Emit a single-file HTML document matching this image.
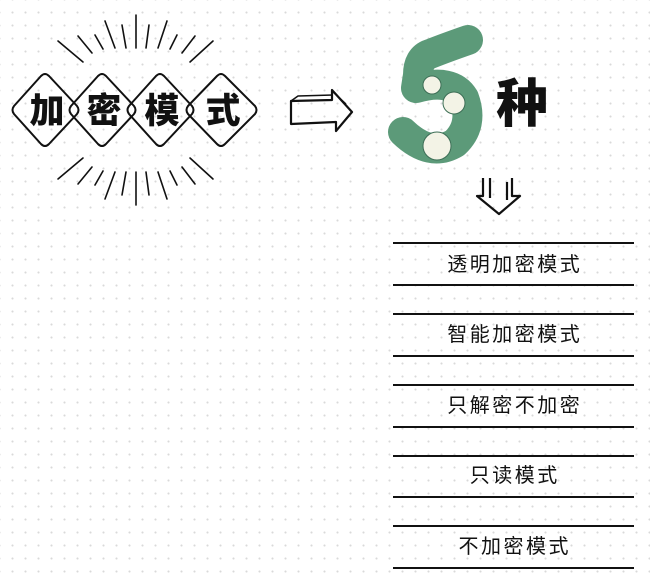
<!DOCTYPE html>
<html><head><meta charset="utf-8"><style>
html,body{margin:0;padding:0}
body{width:650px;height:583px;position:relative;overflow:hidden;background:#fff;
background-image:radial-gradient(circle,#d9d9d9 0.9px,transparent 1.2px);background-size:13px 13px;background-position:6px 6px;
font-family:"Liberation Sans","Noto Sans CJK SC",sans-serif}
.ln{position:absolute;left:393px;width:241px;height:2px;background:#111}
.t{position:absolute;left:393px;width:241px;text-align:center;font-size:20px;letter-spacing:2.5px;text-indent:2.5px;color:#111;line-height:24px}
</style></head><body>
<svg width="650" height="583" style="position:absolute;left:0;top:0">
<g stroke="#111" stroke-width="1.6" fill="none" stroke-linecap="round">
<g id="rays">
<line x1="58" y1="41" x2="83" y2="62"/><line x1="78" y1="36" x2="92" y2="53"/>
<line x1="95" y1="35" x2="103" y2="49"/><line x1="105" y1="21" x2="115" y2="48"/>
<line x1="122" y1="25" x2="126" y2="48"/><line x1="136" y1="15" x2="136" y2="48"/>
<line x1="149" y1="25" x2="146" y2="48"/><line x1="167" y1="21" x2="158" y2="48"/>
<line x1="177" y1="35" x2="170" y2="49"/><line x1="195" y1="36" x2="182" y2="53"/>
<line x1="213" y1="41" x2="190" y2="62"/>
</g>
<use href="#rays" transform="translate(0,220) scale(1,-1)"/>
</g>
<g stroke="#111" stroke-width="2" fill="none" stroke-linejoin="round">
<path d="M41 76 Q45 72 49 76 L77 106 Q80 110 77 114 L49 144 Q45 148 41 144 L14 114 Q11 110 14 106 Z"/>
<path d="M98 76 Q102 72 106 76 L134 106 Q137 110 134 114 L106 144 Q102 148 98 144 L71 114 Q68 110 71 106 Z"/>
<path d="M156 76 Q160 72 164 76 L192 106 Q195 110 192 114 L164 144 Q160 148 156 144 L129 114 Q126 110 129 106 Z"/>
<path d="M217 76 Q221 72 225 76 L255 106 Q258 110 255 114 L225 144 Q221 148 217 144 L188 114 Q185 110 188 106 Z"/>
</g>
<g font-family="'Noto Sans CJK SC',sans-serif" font-weight="900" font-size="35" text-anchor="middle" fill="#111">
<text x="47" y="123">加</text><text x="104" y="123">密</text><text x="162" y="123">模</text><text x="223" y="123">式</text>
</g>
<g stroke="#111" stroke-width="2.2" fill="none" stroke-linejoin="round">
<path d="M291 101 L332 100 L332 90 L352 112 L336 131 L336 122 L291 124 Z"/>
<path d="M291 101 L298 96 L333 95 M333 92 L346 104" stroke-width="1.5"/>
<path d="M483 178 L483 196 L477 196 L499 214 L520 196 L512 196 L512 178 M490 178 L490 198 M507 182 L507 200" />
</g>
<path d="M468 40 Q445 48 430 54 Q418 58 418 75 L416 88 Q452 78 464 98 Q474 125 455 143 Q430 158 403 132" stroke="#5c9a79" stroke-width="30" fill="none" stroke-linecap="round" stroke-linejoin="round"/>
<g fill="#f3f3e6" stroke="#3d6e56" stroke-width="1">
<circle cx="432" cy="85" r="9"/><circle cx="454" cy="103" r="11"/><circle cx="437" cy="146" r="14"/>
</g>
<text x="522" y="122" font-family="'Noto Sans CJK SC',sans-serif" font-weight="900" font-size="52" text-anchor="middle" fill="#111">种</text>
</svg>
<div class="ln" style="top:242px"></div><div class="t" style="top:253px">透明加密模式</div><div class="ln" style="top:284px"></div>
<div class="ln" style="top:313px"></div><div class="t" style="top:323px">智能加密模式</div><div class="ln" style="top:355px"></div>
<div class="ln" style="top:384px"></div><div class="t" style="top:394px">只解密不加密</div><div class="ln" style="top:426px"></div>
<div class="ln" style="top:455px"></div><div class="t" style="top:464px">只读模式</div><div class="ln" style="top:496px"></div>
<div class="ln" style="top:525px"></div><div class="t" style="top:535px">不加密模式</div><div class="ln" style="top:567px"></div>
</body></html>
